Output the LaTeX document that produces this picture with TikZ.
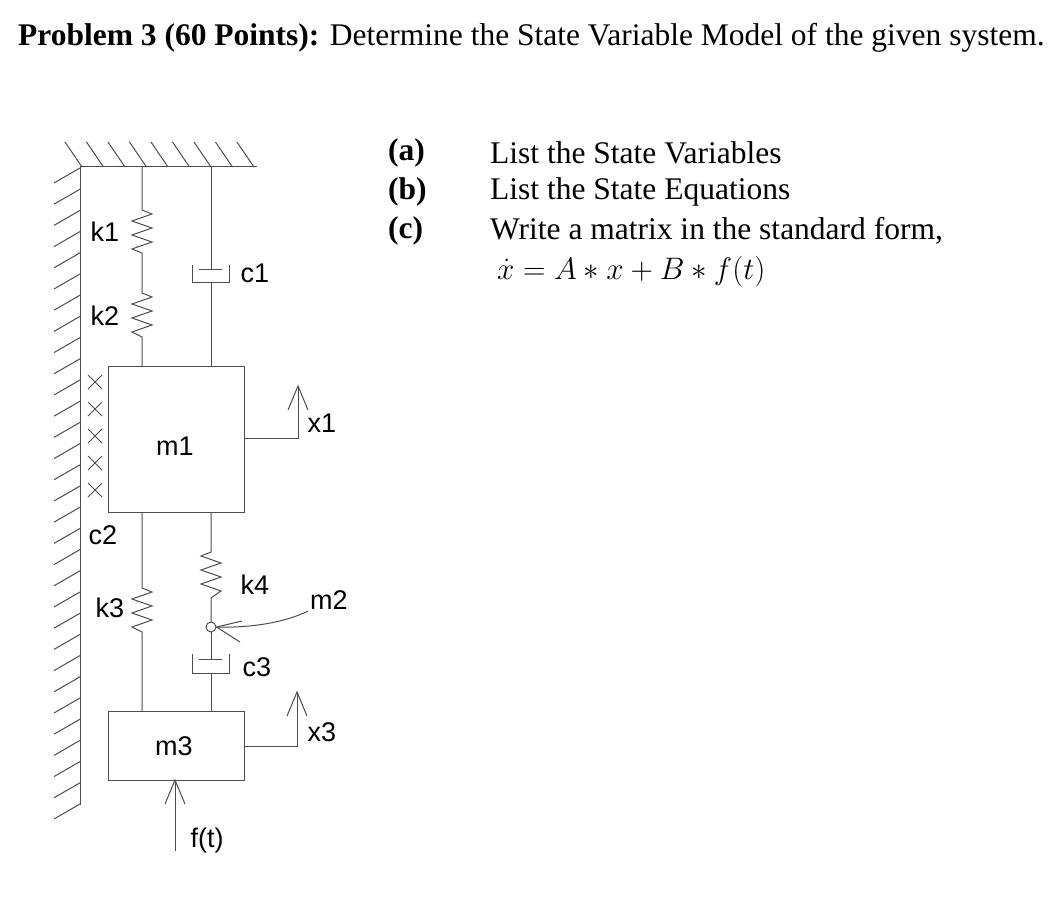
\documentclass[tikz,border=0pt]{standalone}
\usepackage{fontspec}
\usepackage{graphicx}
\setmainfont{Liberation Serif}
\newfontfamily\lab{Liberation Sans}
\begin{document}
\begin{tikzpicture}[x=1pt,y=-1pt,
  ln/.style={draw=black!70,line width=1pt},
  lbl/.style={font=\lab\fontsize{27}{27}\selectfont,inner sep=0pt},
  txt/.style={font=\fontsize{31.5}{31.5}\selectfont,inner sep=0pt,anchor=west}]
\useasboundingbox (0,0) rectangle (1058,904);
\node[txt,anchor=west] (title) at (18,38) {\textbf{Problem 3 (60 Points):} Determine the State Variable Model of the given system.};
% ceiling and wall
\coordinate (cw) at (80,167);
\draw[ln] (257,167) -- (cw) -- (80,805);
\foreach \i in {0,...,8} \draw[ln] (65+21.5*\i,142) -- (82+21.5*\i,167);
\foreach \i in {0,...,30} \draw[ln] (80,168+21.2*\i) -- (54,183+21.2*\i);
% masses
\node[ln,minimum width=136pt,minimum height=146pt,inner sep=0pt] (m1) at (176,439) {};
\node[lbl] at (175,446) {m1};
\node[ln,minimum width=136pt,minimum height=69pt,inner sep=0pt] (m3) at (176,745.5) {};
\node[lbl] at (174,746) {m3};
% spring column k1,k2
\draw[ln] (142,167) -- (142,210) -- (152,214) -- (132,221) -- (152,228) -- (132,235) -- (152,242) -- (132,249) -- (142,253) -- (142,293)
  -- (152,297) -- (132,304) -- (152,311) -- (132,318) -- (152,325) -- (132,332) -- (142,337) -- (142,366);
\node[lbl] at (105,232) {k1};
\node[lbl] at (105,316) {k2};
% c1 damper
\draw[ln] (211,167) -- (211,270);
\draw[ln] (199,270) -- (222,270);
\draw[ln] (192,265) -- (192,283) -- (229,283) -- (229,265);
\draw[ln] (211,283) -- (211,366);
\node[lbl] at (255,273) {c1};
% x marks
\foreach \y in {382,409,436,463,490} \draw[ln] (88,\y-7) -- (102,\y+7) (88,\y+7) -- (102,\y-7);
\node[lbl] at (103,535) {c2};
% x1
\draw[ln] (244,438) -- (298,438) -- (298,386);
\draw[ln] (288,410) -- (298,386) -- (308,410);
\node[lbl] at (322,423) {x1};
% k3
\draw[ln] (142,512) -- (142,588) -- (152,592) -- (132,599) -- (152,606) -- (132,613) -- (152,620) -- (132,627) -- (142,632) -- (142,711);
\node[lbl] at (110,608) {k3};
% k4
\draw[ln] (211,512) -- (211,552) -- (201,556) -- (221,563) -- (201,570) -- (221,577) -- (201,584) -- (221,591) -- (211,598) -- (211,622);
\node[lbl] at (255,585) {k4};
\node[ln,circle,minimum size=10pt,inner sep=0pt] (m2n) at (211,627) {};
\draw[ln] (211,632) -- (211,659);
\draw[ln] (199,659) -- (222,659);
\draw[ln] (192,654) -- (192,673) -- (229,673) -- (229,654);
\draw[ln] (211,673) -- (211,711);
\node[lbl] at (257,667) {c3};
\node[lbl] (m2l) at (329,600) {m2};
\draw[ln] (308,611) .. controls (280,625) and (240,628) .. (m2n.east);
\draw[ln] (242,621) -- (m2n.east) -- (240,642);
% x3
\draw[ln] (244,746) -- (297,746) -- (297,692);
\draw[ln] (287,716) -- (297,692) -- (307,716);
\node[lbl] at (322,732) {x3};
% f(t)
\draw[ln] (175,851) -- (175,780);
\draw[ln] (165,804) -- (175,780) -- (185,804);
\node[lbl] at (207,841) {f(t)};
% text
\node[txt] at (388,153) {\textbf{(a)}};
\node[txt] at (388,192) {\textbf{(b)}};
\node[txt] at (388,231) {\textbf{(c)}};
\node[txt] at (490,153) {List the State Variables};
\node[txt] at (490,192) {List the State Equations};
\node[txt] at (490,231) {Write a matrix in the standard form,};
\node[txt] at (497,272) {\scalebox{1.25}{$\dot{x}=A\ast x+B\ast f(t)$}};
\end{tikzpicture}
\end{document}
